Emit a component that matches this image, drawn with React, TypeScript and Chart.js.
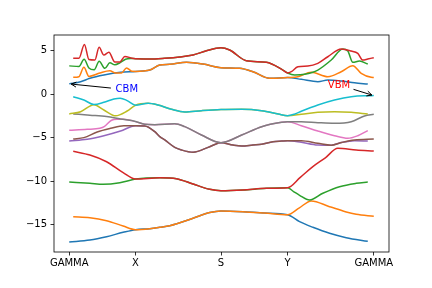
import React, { useEffect, useRef } from "react";
import { Chart, registerables } from "chart.js";

Chart.register(...registerables);

type P = [number, number];

// k-path positions of the high-symmetry points and their labels
const kTickPositions = [0, 66.4, 152, 218.7, 305];
const kTickLabels = ["GAMMA", "X", "S", "Y", "GAMMA"];
const energyTicks = [5, 0, -5, -10, -15];
const kRange: P = [-15.25, 320.25];
const energyRange: P = [-18.13, 6.82];

// degenerate segments shared by band pairs between X and Y
const seg01XY: P[] = [[80.7, -15.45], [90.7, -15.29], [100.7, -15.1], [124, -14.25], [140.7, -13.6], [152, -13.41], [174, -13.49], [195.7, -13.65], [218.7, -13.84]];
const seg23XY: P[] = [[90.7, -9.59], [107.4, -9.7], [124, -10.31], [140.7, -10.92], [152, -11.08], [174, -11.0], [197.4, -10.8], [218.7, -10.74]];
const seg45XY: P[] = [[75.7, -3.64], [85.7, -4.3], [90.7, -4.87], [95.7, -5.25], [105.7, -6.1], [112.4, -6.4], [124, -6.67], [140.7, -6.02], [152, -5.56], [164, -5.83], [172.7, -5.94], [184, -5.83], [192.7, -5.75], [204, -5.45], [212.7, -5.37], [218.7, -5.33]];
const seg67XY: P[] = [[75.7, -3.45], [85.7, -3.49], [105.7, -3.38], [115.7, -3.72], [132.4, -4.68], [152, -5.56], [172.7, -4.68], [192.7, -3.72], [212.7, -3.22], [218.7, -3.15]];
const seg89XY: P[] = [[79, -1.03], [89, -1.23], [102.4, -1.72], [115.7, -2.03], [132.4, -1.88], [152, -1.75], [172.7, -1.72], [192.7, -1.88], [209.4, -2.26], [218.7, -2.46]];
const seg1011XY: P[] = [[80.7, 2.79], [90.7, 3.37], [100.7, 3.45], [117.4, 3.68], [134, 3.48], [152, 3.06], [170.7, 2.99], [184, 2.6], [200.7, 1.84], [218.7, 1.93]];
const seg1213XY: P[] = [[80.7, 4.06], [95.7, 4.15], [110.7, 4.3], [124, 4.52], [136.7, 4.98], [152, 5.36], [160.7, 5.09], [177.4, 3.86], [197.4, 3.68], [214, 2.79], [218.7, 2.45]];

const band0: P[] = [[0, -16.98], [20.7, -16.75], [37.4, -16.37], [54, -15.87], [66.4, -15.56], ...seg01XY, [230.7, -14.64], [244, -15.29], [260.7, -15.98], [277.4, -16.48], [299, -16.9]];
const band1: P[] = [[4, -14.07], [20.7, -14.18], [37.4, -14.53], [54, -15.14], [66.4, -15.56], ...seg01XY, [230.5, -13.05], [242.4, -12.26], [260.7, -12.92], [267.4, -13.15], [277.4, -13.53], [287.4, -13.79], [305, -14.02]];
const band2: P[] = [[0, -10.08], [20.7, -10.23], [34, -10.34], [50.7, -10.16], [66.4, -9.75], ...seg23XY, [224.7, -11.18], [230.7, -11.61], [240.7, -12.15], [254, -11.38], [270.7, -10.62], [287.4, -10.23], [299, -10.08]];
const band3: P[] = [[4, -6.55], [20.7, -6.98], [37.4, -7.75], [54, -9.01], [66.4, -9.75], ...seg23XY, [231.4, -9.55], [244, -8.32], [256.5, -7.3], [269, -6.21], [287.4, -6.4], [305, -6.52]];
const band4: P[] = [[0, -5.37], [18, -5.17], [34.7, -4.76], [51.4, -4.22], [66.4, -3.62], ...seg45XY, [232.4, -5.52], [249, -5.83], [262.4, -5.85], [272.4, -5.55], [285.7, -5.33], [299, -5.37]];
const band5: P[] = [[4, -5.14], [14.7, -4.98], [28, -4.33], [41.4, -3.91], [54.7, -3.6], [66.4, -3.62], ...seg45XY, [232.4, -5.33], [249, -5.63], [262.4, -5.85], [272.4, -5.55], [285.7, -5.25], [305, -5.14]];
const band6: P[] = [[0, -4.14], [18, -4.03], [30.7, -3.9], [35, -3.72], [42.4, -2.98], [48, -2.87], [54.7, -2.87], [66.4, -3.14], ...seg67XY, [232.4, -3.61], [249, -4.22], [265.7, -4.76], [279, -5.06], [289, -4.76], [299, -4.18]];
const band7: P[] = [[4, -2.26], [20.7, -2.4], [37.4, -2.55], [51.4, -2.84], [66.4, -3.12], ...seg67XY, [232.4, -3.15], [249, -3.26], [265.7, -3.33], [282.4, -3.15], [295.7, -2.49], [305, -2.3]];
const band8: P[] = [[0, -2.26], [11.4, -2.0], [24.7, -1.2], [34.7, -1.8], [46.4, -2.47], [58, -1.92], [66.4, -1.25], ...seg89XY, [232.4, -2.3], [249, -2.07], [265.7, -2.0], [282.4, -2.07], [299, -2.26]];
const band9: P[] = [[4, -0.27], [14.7, -0.66], [24.7, -1.17], [34.7, -0.92], [44.7, -0.54], [51, -0.44], [58, -0.72], [66.4, -1.25], ...seg89XY, [226, -2.26], [232.4, -1.95], [249, -1.23], [265.7, -0.66], [282.4, -0.27], [295.7, -0.16], [305, -0.15]];
const band10: P[] = [[0, 1.2], [11.4, 1.45], [20.7, 1.84], [34.7, 2.22], [51.4, 2.53], [66.4, 2.63], ...seg1011XY, [232.4, 1.72], [249, 1.45], [259, 1.64], [272.4, 1.53], [285.7, 1.33], [299, 1.18]];
const band11: P[] = [[4, 1.95], [9.7, 2.02], [14.7, 3.1], [19.7, 2.06], [30.7, 2.45], [40.7, 2.7], [46.4, 2.45], [52.4, 2.45], [57.4, 3.04], [63, 2.64], [66.4, 2.63], ...seg1011XY, [229, 2.02], [242.4, 2.53], [259, 2.02], [272.4, 2.6], [284, 3.29], [292.4, 2.41], [302.4, 1.95], [305, 1.93]];
const band12: P[] = [[0, 3.27], [9.7, 3.2], [14.9, 4.04], [19.7, 3.03], [25, 2.83], [30, 3.8], [35.7, 2.99], [40.7, 3.62], [45.7, 3.4], [50.7, 3.62], [56.4, 4.04], [61.4, 4.12], [66.4, 4.1], ...seg1213XY, [225.7, 2.22], [235.7, 2.3], [249, 2.79], [262.4, 3.94], [274, 5.21], [279, 4.98], [284, 3.68], [290.7, 3.83], [299, 3.48]];
const band13: P[] = [[4, 4.14], [9.7, 4.14], [15.2, 5.74], [19.7, 4.0], [25.7, 3.94], [29.9, 5.4], [34.7, 4.52], [39.7, 4.84], [45.7, 3.72], [50.7, 3.72], [55.7, 4.36], [63, 4.14], [66.4, 4.1], ...seg1213XY, [222.4, 2.6], [229, 3.17], [239, 3.25], [249, 3.56], [259, 4.32], [272.4, 5.21], [282.4, 4.98], [289, 4.71], [294, 3.94], [299, 4.06], [305, 4.21]];

const bands = [band0, band1, band2, band3, band4, band5, band6, band7, band8, band9, band10, band11, band12, band13];
const tab10 = ["#1f77b4", "#ff7f0e", "#2ca02c", "#d62728", "#9467bd", "#8c564b", "#e377c2", "#7f7f7f", "#bcbd22", "#17becf"];

const annotations = [
  { label: "CBM", color: "#0000ff", text: [46.4, 0.3], tail: [41.7, 0.72], tip: [0, 1.2] },
  { label: "VBM", color: "#ff0000", text: [259, 0.76], tail: [284.7, 0.57], tip: [305, -0.15] },
];

const FONT = "DejaVu Sans";

const framePlugin = {
  id: "frameAndNotes",
  afterDatasetsDraw(chart: any) {
    const { ctx, chartArea, scales } = chart;
    const xs = scales.x;
    const ys = scales.y;
    ctx.save();
    ctx.strokeStyle = "#000";
    ctx.lineWidth = 0.8;
    ctx.strokeRect(chartArea.left, chartArea.top, chartArea.right - chartArea.left, chartArea.bottom - chartArea.top);
    ctx.font = `10px "${FONT}"`;
    ctx.textAlign = "left";
    ctx.textBaseline = "alphabetic";
    for (const a of annotations) {
      ctx.fillStyle = a.color;
      ctx.fillText(a.label, xs.getPixelForValue(a.text[0]), ys.getPixelForValue(a.text[1]));
      const x1 = xs.getPixelForValue(a.tail[0]);
      const y1 = ys.getPixelForValue(a.tail[1]);
      const x2 = xs.getPixelForValue(a.tip[0]);
      const y2 = ys.getPixelForValue(a.tip[1]);
      const dx = x2 - x1;
      const dy = y2 - y1;
      const len = Math.hypot(dx, dy);
      const ux = dx / len;
      const uy = dy / len;
      const ex = x2 - ux * 2;
      const ey = y2 - uy * 2;
      ctx.strokeStyle = "#000";
      ctx.lineWidth = 1;
      ctx.beginPath();
      ctx.moveTo(x1, y1);
      ctx.lineTo(ex, ey);
      ctx.stroke();
      const hl = 5;
      const hw = 2.5;
      ctx.beginPath();
      ctx.moveTo(ex - ux * hl - uy * hw, ey - uy * hl + ux * hw);
      ctx.lineTo(ex, ey);
      ctx.lineTo(ex - ux * hl + uy * hw, ey - uy * hl - ux * hw);
      ctx.stroke();
    }
    ctx.restore();
  },
};

export default function App() {
  const ref = useRef<HTMLCanvasElement | null>(null);
  useEffect(() => {
    document.body.style.margin = "0";
    if (!ref.current) return;
    const chart = new Chart(ref.current, {
      type: "line",
      data: {
        datasets: bands.map((b, i) => ({
          data: b.map(([x, y]) => ({ x, y })),
          borderColor: tab10[i % 10],
          backgroundColor: tab10[i % 10],
          borderWidth: 1.5,
          pointRadius: 0,
          fill: false,
          cubicInterpolationMode: "monotone" as const,
          order: -i,
        })),
      },
      options: {
        animation: false,
        responsive: false,
        devicePixelRatio: 1,
        layout: { padding: { top: 35, right: 43, left: 0, bottom: 0 } },
        plugins: { legend: { display: false }, tooltip: { enabled: false } },
        events: [],
        scales: {
          x: {
            type: "linear",
            min: kRange[0],
            max: kRange[1],
            afterBuildTicks: (s: any) => {
              s.ticks = kTickPositions.map((v) => ({ value: v }));
            },
            afterFit: (s: any) => {
              s.height = 36;
            },
            ticks: {
              autoSkip: false,
              maxRotation: 0,
              padding: 2,
              color: "#000",
              font: { family: FONT, size: 10 },
              callback: (_v: any, i: number) => kTickLabels[i],
            },
            grid: { display: true, drawOnChartArea: false, drawTicks: true, tickLength: 3.5, color: "#000", lineWidth: 0.8 },
            border: { display: false },
          },
          y: {
            type: "linear",
            min: energyRange[0],
            max: energyRange[1],
            afterBuildTicks: (s: any) => {
              s.ticks = energyTicks.map((v) => ({ value: v }));
            },
            afterFit: (s: any) => {
              s.width = 54;
            },
            ticks: {
              padding: 3.5,
              color: "#000",
              font: { family: FONT, size: 10 },
              callback: (v: any) => (Number(v) < 0 ? "\u2212" + Math.abs(Number(v)) : String(v)),
            },
            grid: { display: true, drawOnChartArea: false, drawTicks: true, tickLength: 3.5, color: "#000", lineWidth: 0.8 },
            border: { display: false },
          },
        },
      },
      plugins: [framePlugin],
    });
    return () => chart.destroy();
  }, []);
  return <canvas ref={ref} width={432} height={288} style={{ display: "block", width: 432, height: 288 }} />;
}
